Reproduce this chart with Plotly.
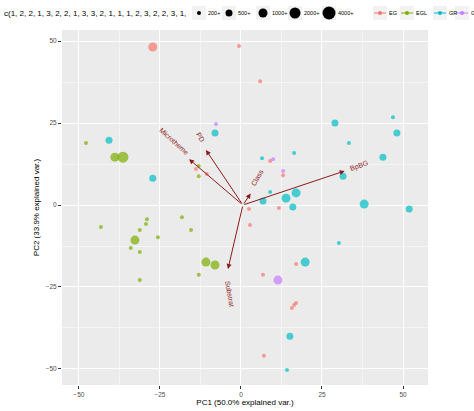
import plotly.graph_objects as go

# PCA scores per group: x, y, size class
eg_x = [-27.2, -0.6, 5.9, -13.9, -10.5, 9.0, 13.0, 2.5, 11.7, 2.8, 17.0, 6.8, 16.4, 15.7, 17.0, 7.1]
eg_y = [48.2, 48.5, 37.8, 11.0, 9.5, 13.4, 9.1, -1.2, -0.9, -6.1, -18.0, -21.3, -30.5, -31.4, -29.9, -46.0]
eg_s = [1000, 200, 200, 200, 200, 200, 200, 200, 200, 200, 200, 200, 200, 200, 200, 200]

egl_x = [-47.8, -36.4, -38.9, -13.0, -13.0, -18.2, -15.4, -29.0, -29.3, -25.6, -43.2, -31.2, -32.7, -34.0, -31.2, -10.8, -8.0, -13.0, -31.2]
egl_y = [18.9, 14.6, 14.6, 11.9, 8.8, -3.7, -7.6, -4.3, -5.8, -9.8, -6.7, -7.6, -10.7, -13.1, -22.9, -17.4, -18.3, -21.3, -14.3]
egl_s = [200, 2000, 1000, 200, 200, 200, 200, 200, 200, 200, 200, 200, 1000, 200, 200, 1000, 1000, 200, 200]

gr_x = [-40.7, -27.2, -8.0, 29.0, 33.3, 6.5, 16.4, 31.5, 43.8, 46.9, 48.1, 51.9, 38.0, 9.0, 6.8, 13.9, 17.0, 16.0, 30.2, 19.8, 15.1, 14.2]
gr_y = [19.8, 8.2, 22.0, 25.0, 18.9, 14.3, 15.9, 8.8, 14.6, 26.8, 22.0, -1.2, 0.3, 4.0, 1.2, 2.1, 3.7, -0.6, -11.6, -17.4, -40.0, -50.3]
gr_s = [500, 500, 500, 500, 200, 200, 200, 500, 500, 200, 500, 500, 1000, 200, 500, 1000, 1000, 500, 200, 1000, 500, 200]

grl_x = [-7.7, 9.9, 13.0, 11.4]
grl_y = [24.7, 14.0, 10.4, -22.9]
grl_s = [200, 200, 200, 1000]

# loadings arrows
var_names = ["BpBG", "Microtheme", "PD", "Substrat", "Class"]
var_x = [32.0, -16.0, -10.8, -4.0, 3.0]
var_y = [10.4, 14.0, 16.8, -19.5, 3.5]
label_x = [36.5, -20.5, -12.5, -3.5, 5.0]
label_y = [11.8, 19.5, 20.5, -27.0, 8.5]
label_angle = [-20, 42, 60, 80, -60]

size_levels = [200, 500, 1000, 2000, 4000]
size_labels = ["200+", "500+", "1000+", "2000+", "4000+"]
px_size = {200: 4, 500: 7, 1000: 9, 2000: 11, 4000: 13}

groups = [("EG", eg_x, eg_y, eg_s, "#F8766D"), ("EGL", egl_x, egl_y, egl_s, "#7CAE00"),
          ("GR", gr_x, gr_y, gr_s, "#00BFC4"), ("GRL", grl_x, grl_y, grl_s, "#C77CFF")]

ML, MR, MT, MB = 62, 46, 30, 26
PW, PH = 474 - ML - MR, 411 - MT - MB


def px(v):
    return (v - ML) / PW


leg_y = (411 - MB - 13) / PH

fig = go.Figure()
for name, x, y, s, c in groups:
    fig.add_trace(go.Scatter(x=x, y=y, mode="markers", name=name, showlegend=False,
                             marker=dict(color=c, size=[px_size[v] for v in s], line=dict(width=0))))

anns = []
shapes = []
for n, vx, vy, lx, ly, a in zip(var_names, var_x, var_y, label_x, label_y, label_angle):
    anns.append(dict(x=vx, y=vy, ax=0.6, ay=0, axref="x", ayref="y", xref="x", yref="y",
                     showarrow=True, arrowhead=2, arrowsize=1, arrowwidth=1, arrowcolor="#8B1A1A", text=""))
    anns.append(dict(x=lx, y=ly, xref="x", yref="y", text=n, showarrow=False, textangle=a,
                     font=dict(size=7, color="#8B1A1A")))

# manual legend row at the top
anns.append(dict(x=px(2), y=leg_y, xref="paper", yref="paper", xanchor="left", yanchor="middle",
                 text="c(1, 2, 2, 1, 3, 2, 2, 1, 3, 3, 2, 1, 1, 1, 2, 3, 2, 2, 3, 1,",
                 showarrow=False, font=dict(size=8, color="black")))
size_key_x = [199, 229, 263, 295, 329]
for kx, lv, lb in zip(size_key_x, size_levels, size_labels):
    shapes.append(dict(type="rect", xref="paper", yref="paper", xsizemode="pixel", ysizemode="pixel",
                       xanchor=px(kx), yanchor=leg_y, x0=-7, x1=7, y0=-7, y1=7,
                       fillcolor="#F2F2F2", line=dict(width=0), layer="below"))
    r = px_size[lv] / 2
    shapes.append(dict(type="circle", xref="paper", yref="paper", xsizemode="pixel", ysizemode="pixel",
                       xanchor=px(kx), yanchor=leg_y, x0=-r, x1=r, y0=-r, y1=r,
                       fillcolor="black", line=dict(width=0)))
    anns.append(dict(x=px(kx + 7), y=leg_y, xref="paper", yref="paper", xanchor="left", yanchor="middle",
                     text=lb, showarrow=False, font=dict(size=5.5, color="black")))
col_key_x = [380, 407, 440, 462]
for kx, (name, _, _, _, c) in zip(col_key_x, groups):
    shapes.append(dict(type="rect", xref="paper", yref="paper", xsizemode="pixel", ysizemode="pixel",
                       xanchor=px(kx), yanchor=leg_y, x0=-7, x1=7, y0=-7, y1=7,
                       fillcolor="#F2F2F2", line=dict(width=0), layer="below"))
    shapes.append(dict(type="line", xref="paper", yref="paper", xsizemode="pixel", ysizemode="pixel",
                       xanchor=px(kx), yanchor=leg_y, x0=-6, x1=6, y0=0, y1=0, line=dict(color=c, width=1)))
    shapes.append(dict(type="circle", xref="paper", yref="paper", xsizemode="pixel", ysizemode="pixel",
                       xanchor=px(kx), yanchor=leg_y, x0=-2, x1=2, y0=-2, y1=2,
                       fillcolor=c, line=dict(width=0)))
    anns.append(dict(x=px(kx + 7), y=leg_y, xref="paper", yref="paper", xanchor="left", yanchor="middle",
                     text=name, showarrow=False, font=dict(size=5.5, color="black")))

fig.update_layout(
    width=474, height=411, margin=dict(l=ML, r=MR, t=MT, b=MB, autoexpand=False),
    plot_bgcolor="#EBEBEB", paper_bgcolor="white", showlegend=False,
    font=dict(family="Liberation Sans, Arial", size=6.5, color="#4D4D4D"),
    annotations=anns, shapes=shapes,
)
fig.update_xaxes(range=[-55.2, 57.7], tickvals=[-50, -25, 0, 25, 50], showgrid=True, gridcolor="white",
                 gridwidth=1, zeroline=False, ticks="outside", ticklen=3, tickcolor="#333",
                 title=dict(text="PC1 (50.0% explained var.)", font=dict(size=8, color="black"), standoff=2),
                 minor=dict(showgrid=True, gridcolor="#F5F5F5", dtick=12.5))
fig.update_yaxes(range=[-54.9, 53.4], tickvals=[-50, -25, 0, 25, 50], showgrid=True, gridcolor="white",
                 gridwidth=1, zeroline=False, ticks="outside", ticklen=3, tickcolor="#333",
                 title=dict(text="PC2 (33.9% explained var.)", font=dict(size=8, color="black"), standoff=4),
                 minor=dict(showgrid=True, gridcolor="#F5F5F5", dtick=12.5))
fig.write_html("out.html", config={"displayModeBar": False},
               post_script="document.body.style.margin='0';document.body.style.padding='0';")
